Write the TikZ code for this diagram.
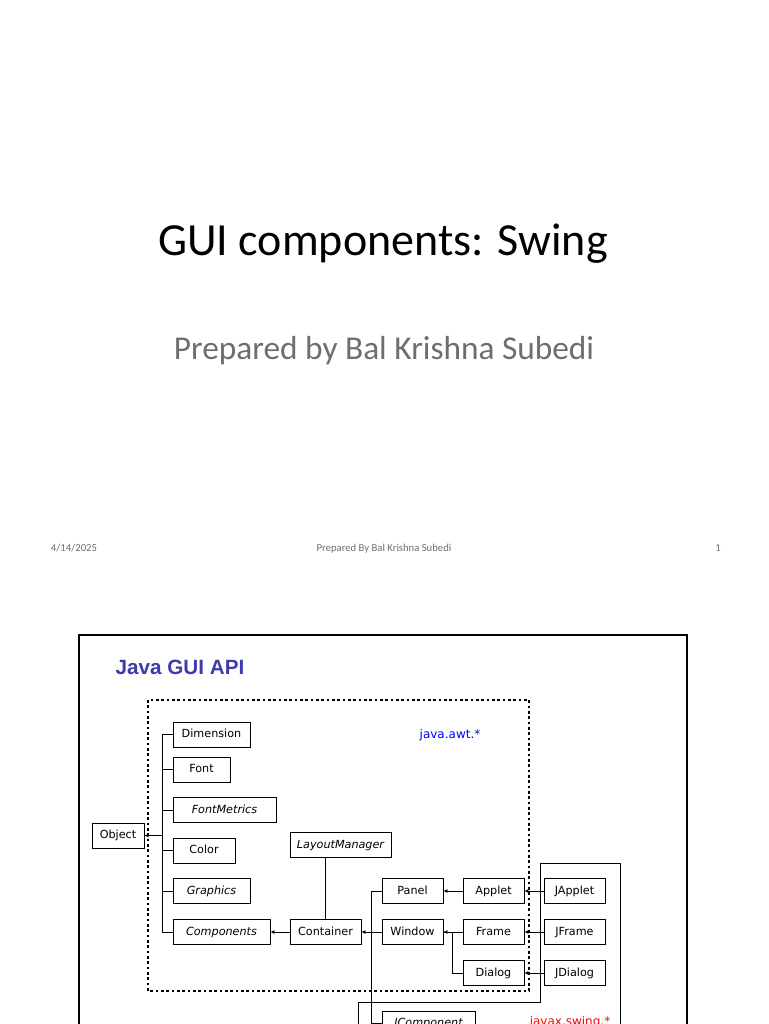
\documentclass[tikz,border=0pt]{standalone}
\usepackage{fontspec}
\setmainfont{Carlito}
\newfontfamily\boxfont{DejaVu Sans}
\newfontfamily\headfont{Liberation Sans}
\usetikzlibrary{arrows.meta}
\definecolor{titleblue}{RGB}{60,60,170}
\definecolor{footgray}{RGB}{110,110,110}
\tikzset{
  cls/.style={draw, line width=0.6pt, minimum height=18.75pt, inner sep=0pt, text height=6.4pt, text depth=1.8pt, font=\boxfont\fontsize{8.4}{9}\selectfont},
  link/.style={line width=0.6pt},
  inh/.style={line width=0.6pt, -{Latex[length=3pt,width=3pt]}}
}
\begin{document}
\begin{tikzpicture}[x=0.75pt,y=0.75pt,yscale=-1,xscale=1]
    \useasboundingbox (0,0) rectangle (768,1024);

    % Title slide
    \node (title) at (383,244) {\fontsize{34.5}{40}\selectfont GUI components: Swing};
    \node [text=footgray] (author) at (384,351) {\fontsize{25}{30}\selectfont Prepared by Bal Krishna Subedi};
    \node [text=footgray, anchor=base] (date) at (74,551) {\fontsize{8}{9}\selectfont 4/14/2025};
    \node [text=footgray, anchor=base] (foot) at (384,551) {\fontsize{8}{9}\selectfont Prepared By Bal Krishna Subedi};
    \node [text=footgray, anchor=base] (page) at (718,551) {\fontsize{8}{9}\selectfont 1};

    % Frame and packages
    \draw [line width=1pt] (79,1030) -- (79,635) -- (687,635) -- (687,1030);
    \node [anchor=west, text=titleblue] (api) at (111,667) {\headfont\bfseries\fontsize{15.5}{18}\selectfont Java GUI API};
    \draw [line width=2pt, dotted] (148,700) rectangle (529,991);
    \node [text=blue] (awt) at (450,735) {\boxfont\fontsize{9}{10}\selectfont java.awt.*};
    \draw [line width=0.6pt] (358,1030) -- (358,1002) -- (540,1002) -- (540,863) -- (620,863) -- (620,1030);
    \node [text=red] (swing) at (570,1022) {\boxfont\fontsize{9}{10}\selectfont javax.swing.*};

    % Classes
    \node [cls, minimum width=39pt] (obj) at (118,835.5) {Object};
    \node [cls, minimum width=57.75pt] (dim) at (211.5,734.5) {Dimension};
    \node [cls, minimum width=42.75pt] (font) at (201.5,769.5) {Font};
    \node [cls, minimum width=77.25pt] (fm) at (224.5,810) {\itshape FontMetrics};
    \node [cls, minimum width=46.5pt] (color) at (204,850.5) {Color};
    \node [cls, minimum width=57.75pt] (gfx) at (211.5,891) {\itshape Graphics};
    \node [cls, minimum width=72.75pt] (comp) at (221.5,932) {\itshape Components};
    \node [cls, minimum width=75.75pt] (lm) at (340.5,845) {\itshape LayoutManager};
    \node [cls, minimum width=53.25pt] (cont) at (325.5,932) {Container};
    \node [cls, minimum width=45.75pt] (panel) at (412.5,891) {Panel};
    \node [cls, minimum width=45.75pt] (win) at (412.5,932) {Window};
    \node [cls, minimum width=45.75pt] (applet) at (493.5,891) {Applet};
    \node [cls, minimum width=45.75pt] (frame) at (493.5,932) {Frame};
    \node [cls, minimum width=45.75pt] (dialog) at (493.5,973) {Dialog};
    \node [cls, minimum width=45.75pt] (japplet) at (574.5,891) {JApplet};
    \node [cls, minimum width=45.75pt] (jframe) at (574.5,932) {JFrame};
    \node [cls, minimum width=45.75pt] (jdialog) at (574.5,973) {JDialog};
    \node [cls, minimum width=69.75pt] (jcomp) at (428.5,1023.5) {\itshape JComponent};

    % Connectors
    \coordinate (trunk) at (162,835.5);
    \draw [inh] (trunk) -- (obj.east);
    \draw [link] (dim.west) -| (trunk) (font.west) -| (trunk) (fm.west) -| (trunk)
        (color.west) -| (trunk) (gfx.west) -| (trunk) (comp.west) -| (trunk);
    \draw [inh] (cont.west) -- (comp.east);
    \draw [link] (cont.north) -- (cont.north |- lm.south);
    \draw [inh] (win.west) -- (cont.east);
    \draw [link] (panel.west) -- ++(-10,0) |- (jcomp.west);
    \draw [inh] (applet.west) -- (panel.east);
    \draw [inh] (frame.west) -- (win.east);
    \draw [link] (dialog.west) -- ++(-10,0) |- (win.east);
    \draw [inh] (japplet.west) -- (applet.east);
    \draw [inh] (jframe.west) -- (frame.east);
    \draw [inh] (jdialog.west) -- (dialog.east);
\end{tikzpicture}
\end{document}
